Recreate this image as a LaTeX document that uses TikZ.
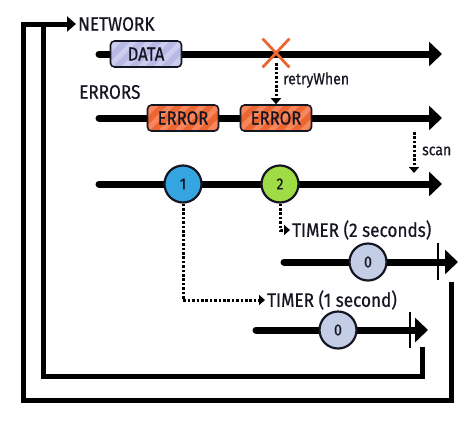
\documentclass[tikz,border=0pt]{standalone}
\usepackage{fontspec}
\newfontfamily\handfont[FakeStretch=0.88, FakeBold=0.6]{Fira Sans}
\usetikzlibrary{arrows.meta, positioning, shapes.misc}

\definecolor{inkline}{RGB}{22,22,34}
\definecolor{datafill}{RGB}{185,185,230}
\definecolor{datalight}{RGB}{205,205,240}
\definecolor{errfill}{RGB}{236,102,52}
\definecolor{errlight}{RGB}{246,135,92}
\definecolor{onefill}{RGB}{52,165,225}
\definecolor{twofill}{RGB}{160,220,70}
\definecolor{zerofill}{RGB}{195,205,230}

\begin{document}
\begin{tikzpicture}[
    x=1pt, y=-1pt,
    stream/.style={
      line width=7pt,
      line cap=round,
      -{Triangle[length=13pt, width=24pt]}
    },
    loopback/.style={
      line width=5pt,
      -{Triangle[length=9pt, width=15pt]}
    },
    dotarrow/.style={
      line width=3pt,
      dash pattern=on 2.6pt off 1.8pt,
      -{Triangle[length=6pt, width=10pt]}
    },
    striped/.style={
      path picture={
        \foreach \s in {-50,-34,...,90}
          \draw[#1, line width=5pt] ([xshift=\s*1pt]path picture bounding box.south west) -- ++(34,-34);
      }
    },
    event/.style={
      rectangle,
      rounded corners=4pt,
      draw=inkline,
      line width=1.6pt,
      minimum width=71pt,
      minimum height=26pt,
      inner sep=0pt,
      text=inkline,
      font=\handfont\fontsize{19}{19}\selectfont
    },
    marble/.style={
      circle,
      draw=inkline,
      line width=2.2pt,
      minimum size=37pt,
      inner sep=0pt,
      text=inkline,
      font=\handfont\fontsize{16}{16}\selectfont
    },
    streamname/.style={
      anchor=west,
      inner sep=2pt,
      text=inkline,
      font=\handfont\fontsize{19.5}{19.5}\selectfont
    },
    opname/.style={
      anchor=west,
      inner sep=1pt,
      text=inkline,
      font=\handfont\fontsize{16}{16}\selectfont
    },
    tickmark/.style={
      line width=1.2pt
    }
  ]

  \useasboundingbox (0,0) rectangle (474,424);

  % Streams
  \coordinate (netstart) at (99,54);
  \coordinate (netend) at (442,54);
  \coordinate (errstart) at (99,118);
  \coordinate (errend) at (442,118);
  \coordinate (numstart) at (99,184);
  \coordinate (numend) at (442,184);
  \coordinate (t2start) at (284,262);
  \coordinate (t2end) at (458,262);
  \coordinate (t1start) at (256,330);
  \coordinate (t1end) at (428,330);

  \draw[stream] (netstart) -- (netend);
  \draw[stream] (errstart) -- (errend);
  \draw[stream] (numstart) -- (numend);
  \draw[stream] (t2start) -- (t2end);
  \draw[stream] (t1start) -- (t1end);

  % Stream names
  \node[streamname] (network) at (76,24) {NETWORK};
  \node[streamname] (errors) at (77,92) {ERRORS};

  % Events
  \node[event, fill=datafill, striped=datalight] (data) at (146,54) {DATA};
  \node[cross out, draw=errfill, line width=2.8pt, minimum width=24pt, minimum height=26pt] (fail) at (276,53) {};
  \node[event, fill=errfill, striped=errlight] (err1) at (183,118) {ERROR};
  \node[event, fill=errfill, striped=errlight] (err2) at (276,118) {ERROR};
  \node[marble, fill=onefill] (one) at (183,184) {1};
  \node[marble, fill=twofill] (two) at (280,184) {2};
  \node[marble, fill=zerofill] (zero2) at (368,262) {0};
  \node[marble, fill=zerofill] (zero1) at (338,330) {0};

  % Operators
  \draw[dotarrow] (fail.center) ++(0,10) coordinate (failfoot) (failfoot) -- (err2.north);
  \node[opname] (retry) at (282,80) {retryWhen};
  \coordinate (scantop) at (414,132);
  \coordinate (scanfoot) at (414,173);
  \draw[dotarrow] (scantop) -- (scanfoot);
  \node[opname] (scan) at (421,151) {scan};

  % Timers
  \node[streamname] (timer2) at (290,230) {TIMER (2 seconds)};
  \node[streamname] (timer1) at (265,300) {TIMER (1 second)};
  \draw[dotarrow] (two.south) |- (timer2.west);
  \draw[dotarrow] (one.south) |- (timer1.west);

  % Completion ticks
  \draw[tickmark] (438,243) -- (438,280);
  \draw[tickmark] (410,312) -- (410,348);

  % Loops back to network
  \coordinate (outerfoot) at (451,282);
  \coordinate (innerfoot) at (422,347);
  \draw[loopback] (outerfoot) -- (451,400) -- (23,400) -- (23,24) -- (network.west);
  \draw[line width=5pt] (innerfoot) -- (422,376) -- (43,376) -- (43,24);

\end{tikzpicture}
\end{document}
